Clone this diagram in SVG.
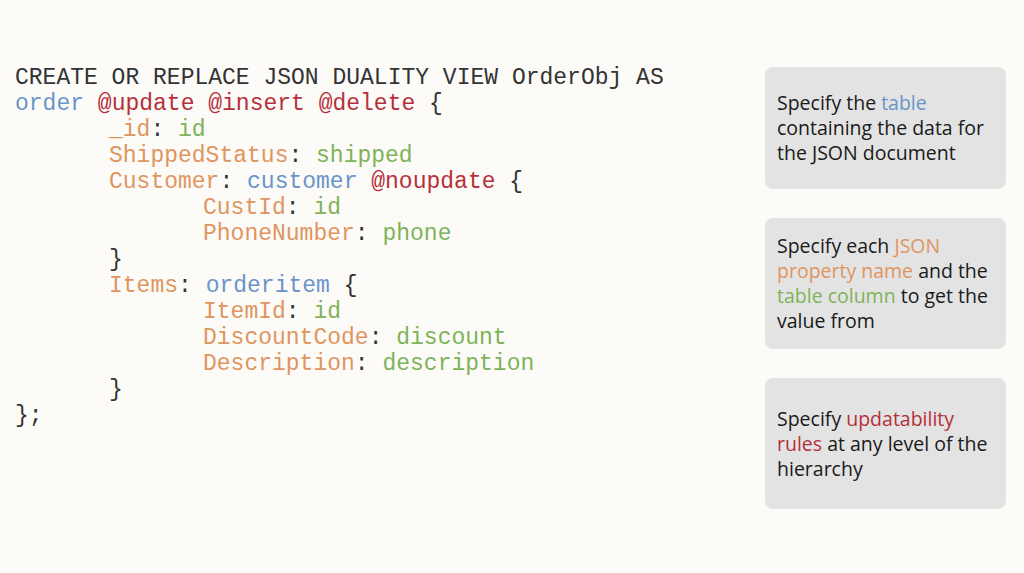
<svg xmlns="http://www.w3.org/2000/svg" width="1024" height="573" viewBox="0 0 1024 573">
<style>
.c{font-family:"Liberation Mono",monospace;font-size:23px;fill:#333;white-space:pre}
.k{fill:#333}.t{fill:#6a95c8}.a{fill:#b5303a}.p{fill:#e0955f}.v{fill:#7eb35a}
.box{fill:#e3e3e3}
.d{font-family:"Open Sans","Noto Sans",sans-serif;font-size:19.5px;fill:#1a1a1a}
</style>
<rect width="1024" height="573" fill="#fcfbf8"/>
<g id="code" class="c">
<text x="15" y="84">CREATE OR REPLACE JSON DUALITY VIEW OrderObj AS</text>
<text x="15" y="110"><tspan class="t">order</tspan> <tspan class="a">@update @insert @delete</tspan> {</text>
<text x="109" y="136"><tspan class="p">_id</tspan>: <tspan class="v">id</tspan></text>
<text x="109" y="162"><tspan class="p">ShippedStatus</tspan>: <tspan class="v">shipped</tspan></text>
<text x="109" y="188"><tspan class="p">Customer</tspan>: <tspan class="t">customer</tspan> <tspan class="a">@noupdate</tspan> {</text>
<text x="203" y="214"><tspan class="p">CustId</tspan>: <tspan class="v">id</tspan></text>
<text x="203" y="240"><tspan class="p">PhoneNumber</tspan>: <tspan class="v">phone</tspan></text>
<text x="109" y="266">}</text>
<text x="109" y="292"><tspan class="p">Items</tspan>: <tspan class="t">orderitem</tspan> {</text>
<text x="203" y="318"><tspan class="p">ItemId</tspan>: <tspan class="v">id</tspan></text>
<text x="203" y="344"><tspan class="p">DiscountCode</tspan>: <tspan class="v">discount</tspan></text>
<text x="203" y="370"><tspan class="p">Description</tspan>: <tspan class="v">description</tspan></text>
<text x="109" y="396">}</text>
<text x="15" y="422">};</text>
</g>
<g id="box1">
<rect class="box" x="765" y="67" width="241" height="122" rx="8"/>
<text class="d" x="777" y="110">Specify the <tspan class="t">table</tspan></text>
<text class="d" x="777" y="135">containing the data for</text>
<text class="d" x="777" y="160">the JSON document</text>
</g>
<g id="box2">
<rect class="box" x="765" y="218" width="241" height="131" rx="8"/>
<text class="d" x="777" y="253">Specify each <tspan class="p">JSON</tspan></text>
<text class="d" x="777" y="278"><tspan class="p">property name</tspan> and the</text>
<text class="d" x="777" y="303"><tspan class="v">table column</tspan> to get the</text>
<text class="d" x="777" y="328">value from</text>
</g>
<g id="box3">
<rect class="box" x="765" y="378" width="241" height="131" rx="8"/>
<text class="d" x="777" y="426">Specify <tspan class="a">updatability</tspan></text>
<text class="d" x="777" y="451"><tspan class="a">rules</tspan> at any level of the</text>
<text class="d" x="777" y="476">hierarchy</text>
</g>
<g id="connectors"/>
</svg>
